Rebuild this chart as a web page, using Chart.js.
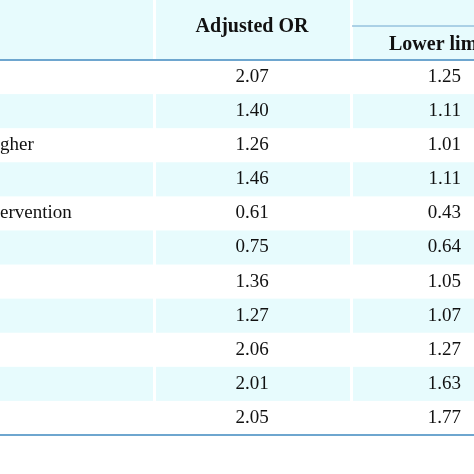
<!DOCTYPE html>
<html><head><meta charset="utf-8">
<script src="https://cdn.jsdelivr.net/npm/chart.js"></script>
<style>html,body{margin:0;padding:0;background:#fff}#w{width:474px;height:474px}</style>
</head><body><div id="w"><canvas id="c"></canvas></div>
<script>
const rowLabels = ["", "", "gher", "", "ervention", "", "", "", "", "", ""];
const adjustedOR = [2.07, 1.40, 1.26, 1.46, 0.61, 0.75, 1.36, 1.27, 2.06, 2.01, 2.05];
const lowerLimit = [1.25, 1.11, 1.01, 1.11, 0.43, 0.64, 1.05, 1.07, 1.27, 1.63, 1.77];
const headers = ["Adjusted OR", "Lower limit"];

const CYAN = '#e7fbfd', LINE = '#6ea6cf', TXT = '#111';
const FONT = '19px "Liberation Serif", "DejaVu Serif", serif';
const BFONT = 'bold 20px "Liberation Serif", "DejaVu Serif", serif';

const tablePlugin = {
  id: 'table',
  beforeDraw(chart) {
    const {ctx, scales: {x, y}} = chart;
    const cols = [[x.getPixelForValue(0), x.getPixelForValue(153)], [x.getPixelForValue(156), x.getPixelForValue(350)], [x.getPixelForValue(353), x.getPixelForValue(474)]];
    const step = y.getPixelForValue(1) - y.getPixelForValue(0);
    const top = y.getPixelForValue(0) - step / 2;
    ctx.save();
    ctx.fillStyle = CYAN;
    cols.forEach(c => ctx.fillRect(c[0], 0, c[1] - c[0], top));
    adjustedOR.forEach((v, i) => {
      if (i % 2 === 1) {
        const yc = y.getPixelForValue(i);
        cols.forEach(c => ctx.fillRect(c[0], yc - step / 2, c[1] - c[0], step));
      }
    });
    ctx.strokeStyle = LINE;
    ctx.lineWidth = 2;
    ctx.beginPath(); ctx.moveTo(0, top); ctx.lineTo(474, top); ctx.stroke();
    const bot = y.getPixelForValue(adjustedOR.length - 1) + step / 2;
    ctx.beginPath(); ctx.moveTo(0, bot); ctx.lineTo(474, bot); ctx.stroke();
    ctx.lineWidth = 1;
    ctx.beginPath(); ctx.moveTo(352, 26); ctx.lineTo(474, 26); ctx.stroke();
    ctx.fillStyle = TXT;
    ctx.font = BFONT;
    ctx.textBaseline = 'middle';
    ctx.textAlign = 'center';
    ctx.fillText(headers[0], 252, 27);
    ctx.textAlign = 'left';
    ctx.fillText(headers[1], 389, 45);
    ctx.font = FONT;
    adjustedOR.forEach((v, i) => {
      const yc = y.getPixelForValue(i);
      ctx.textAlign = 'center';
      ctx.fillText(v.toFixed(2), 252, yc);
      ctx.textAlign = 'right';
      ctx.fillText(lowerLimit[i].toFixed(2), 461, yc);
      ctx.textAlign = 'left';
      if (rowLabels[i]) ctx.fillText(rowLabels[i], 0, yc);
    });
    ctx.restore();
  }
};

new Chart(document.getElementById('c'), {
  type: 'bar',
  data: { labels: adjustedOR.map((_, i) => i), datasets: [{ data: adjustedOR.map(() => null) }] },
  options: {
    indexAxis: 'y', responsive: true, maintainAspectRatio: false, animation: false,
    layout: { padding: { top: 60, bottom: 39, left: 0, right: 0 } },
    plugins: { legend: { display: false }, tooltip: { enabled: false } },
    scales: {
      x: { type: 'linear', min: 0, max: 474, display: false },
      y: { type: 'category', display: false, offset: true }
    }
  },
  plugins: [tablePlugin]
});
</script></body></html>
